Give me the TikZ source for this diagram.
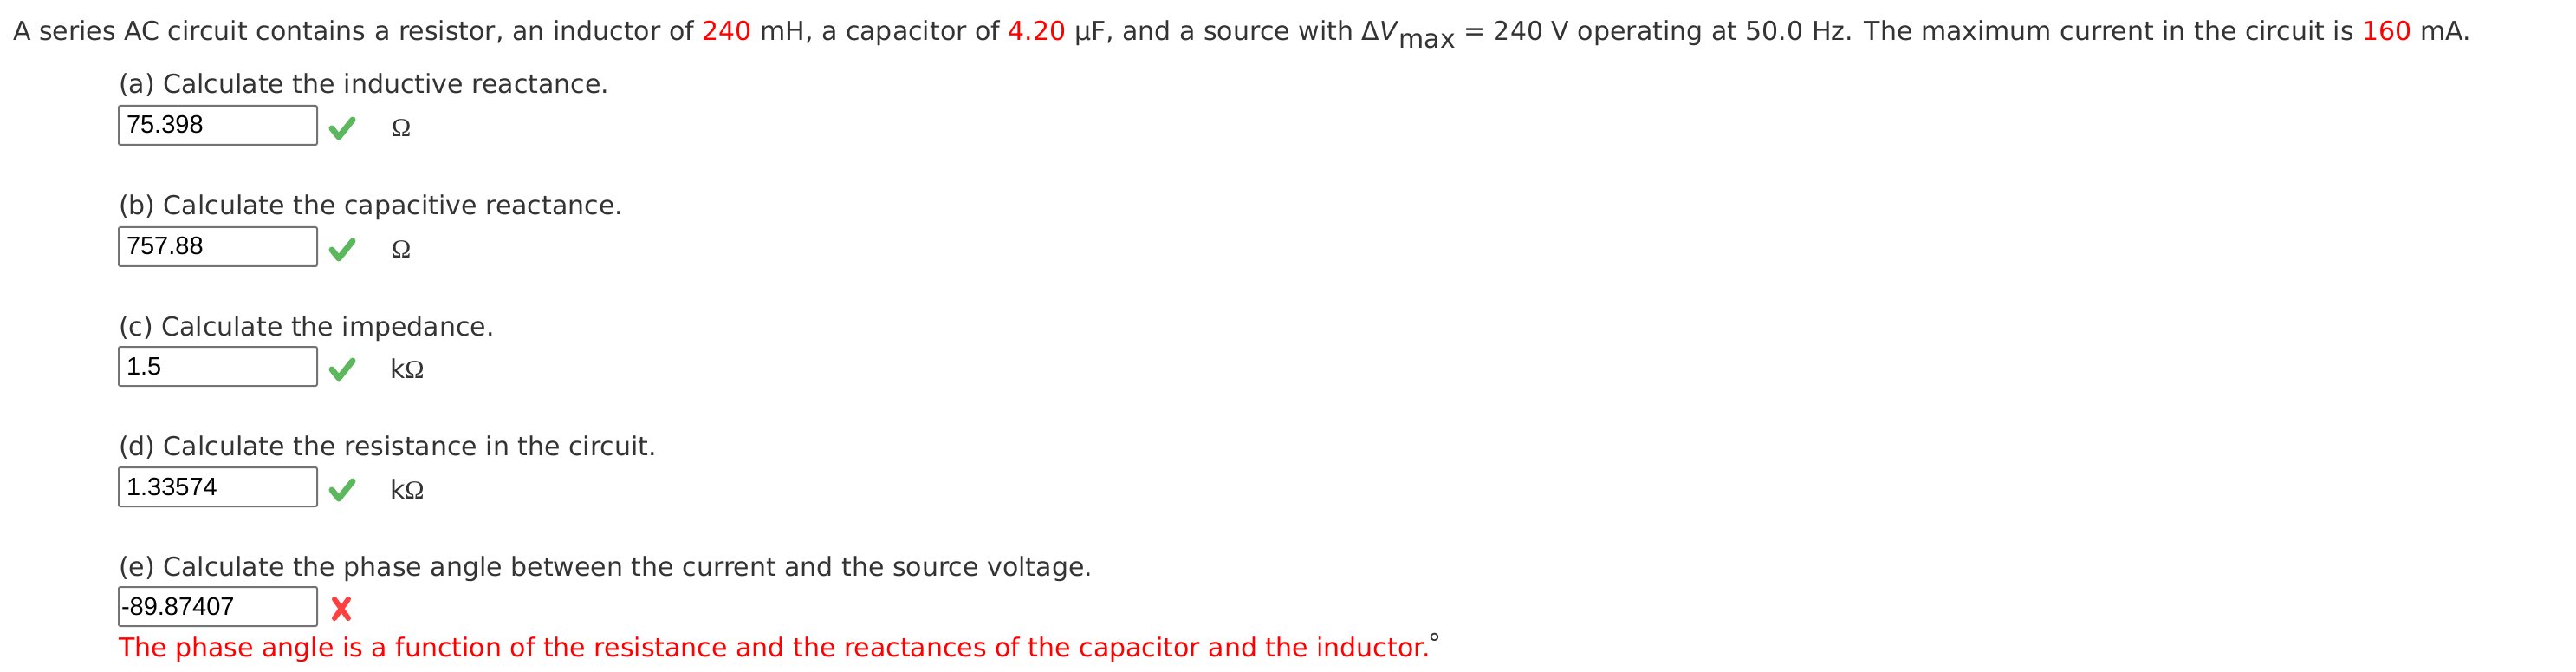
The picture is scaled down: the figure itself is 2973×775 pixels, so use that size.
\documentclass[tikz,border=0pt]{standalone}
\usepackage{fontspec}
\usetikzlibrary{calc}
\setmainfont{DejaVu Sans}
\newfontfamily\ansfont{Liberation Sans}
\newfontfamily\unitfont{Liberation Serif}
\definecolor{txt}{HTML}{333333}
\definecolor{wrong}{HTML}{FF0000}
\definecolor{okgreen}{HTML}{5CB85C}
\newcommand{\rd}[1]{\textcolor{wrong}{#1}}
\begin{document}
\begin{tikzpicture}[x=1pt,y=-1pt,
  every node/.style={inner sep=0pt,outer sep=0pt,text=txt,font=\fontsize{30}{34}\selectfont},
  lbl/.style={anchor=base west},
  ansbox/.style={draw=gray!90!black,line width=2pt,rounded corners=2pt,minimum width=229pt,minimum height=45pt,anchor=north west},
  anstext/.style={anchor=base west,font=\ansfont\fontsize{29}{34}\selectfont,text=black},
  unit/.style={anchor=base west,font=\fontsize{30}{34}\selectfont},
  tick/.style={draw=okgreen,line width=7pt,line cap=round,line join=round},
  cross/.style={draw=wrong!75,line width=6pt,line cap=round}]
\useasboundingbox (0,0) rectangle (2973,775);
\node[lbl] (title) at (15,47) {A series AC circuit contains a resistor, an inductor of \rd{240} mH, a capacitor of \rd{4.20} μF, and a source with Δ\textit{V}\raisebox{-9pt}{max} = 240 V operating at 50.0 Hz. The maximum current in the circuit is \rd{160} mA.};
% (a)
\node[lbl] (qa) at (137,108) {(a) Calculate the inductive reactance.};
\node[ansbox] (ba) at (137,122) {};
\node[anstext] (ta) at (146,154) {75.398};
\coordinate (ca) at (394,146);
\draw[tick] ($(ca)+(-11,2)$) -- ($(ca)+(-3,12)$) -- ($(ca)+(13,-8)$);
\node[unit] (ua) at (452,158) {\unitfont Ω};
% (b)
\node[lbl] (qb) at (137,248) {(b) Calculate the capacitive reactance.};
\node[ansbox] (bb) at (137,262) {};
\node[anstext] (tb) at (146,294) {757.88};
\coordinate (cb) at (394,286);
\draw[tick] ($(cb)+(-11,2)$) -- ($(cb)+(-3,12)$) -- ($(cb)+(13,-8)$);
\node[unit] (ub) at (452,298) {\unitfont Ω};
% (c)
\node[lbl] (qc) at (137,387) {(c) Calculate the impedance.};
\node[ansbox] (bc) at (137,400) {};
\node[anstext] (tc) at (146,432) {1.5};
\coordinate (cc) at (394,424);
\draw[tick] ($(cc)+(-11,2)$) -- ($(cc)+(-3,12)$) -- ($(cc)+(13,-8)$);
\node[unit] (uc) at (450,436) {k{\unitfont Ω}};
% (d)
\node[lbl] (qd) at (137,525) {(d) Calculate the resistance in the circuit.};
\node[ansbox] (bd) at (137,539) {};
\node[anstext] (td) at (146,571) {1.33574};
\coordinate (cd) at (394,563);
\draw[tick] ($(cd)+(-11,2)$) -- ($(cd)+(-3,12)$) -- ($(cd)+(13,-8)$);
\node[unit] (ud) at (450,575) {k{\unitfont Ω}};
% (e)
\node[lbl] (qe) at (137,664) {(e) Calculate the phase angle between the current and the source voltage.};
\node[ansbox] (be) at (137,677) {};
\node[anstext] (te) at (140,709) {-89.87407};
\coordinate (ce) at (394,702);
\draw[cross] ($(ce)+(-8,-11)$) -- ($(ce)+(8,11)$);
\draw[cross] ($(ce)+(8,-11)$) -- ($(ce)+(-8,11)$);
\node[lbl,text=wrong] (fb) at (137,757) {The phase angle is a function of the resistance and the reactances of the capacitor and the inductor.};
\node[lbl] (deg) at (1648,752) {°};
\end{tikzpicture}
\end{document}
